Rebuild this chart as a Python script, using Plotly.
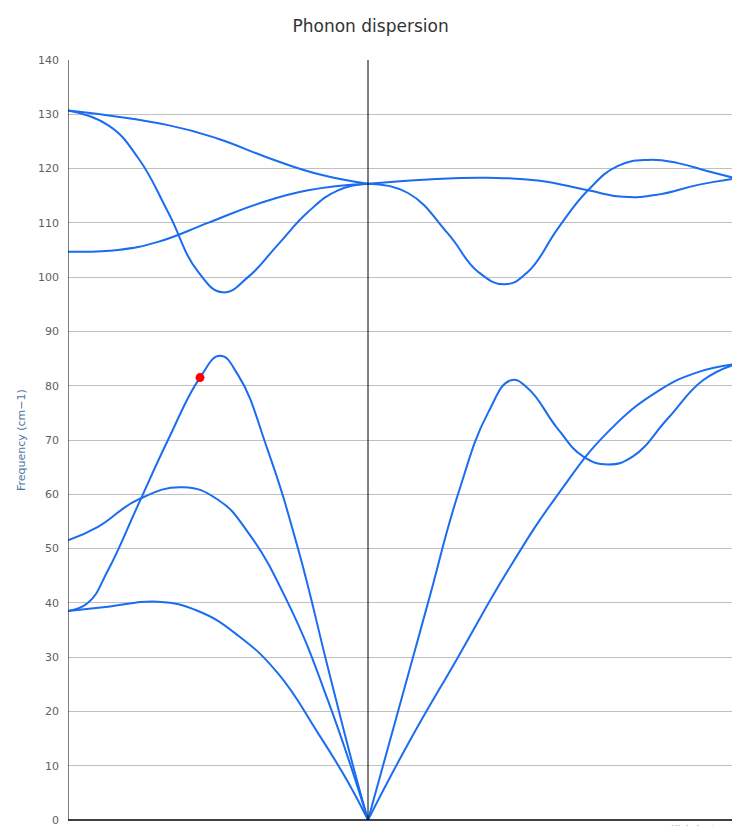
import plotly.graph_objects as go

# path coordinate (0 = Gamma, 300 = second point, 668 = end) and frequencies (cm-1)
seg1_x = {
 "A": [0, 100, 150, 200, 250, 300],
 "B": [0, 40, 70, 100, 130, 155, 180, 210, 240, 270, 300],
 "C": [0, 50, 90, 140, 190, 240, 300],
 "D": [0, 20, 40, 70, 100, 132, 152, 170, 200, 230, 260, 285, 300],
 "E": [0, 30, 70, 115, 150, 180, 220, 260, 300],
 "F": [0, 40, 90, 130, 170, 210, 250, 280, 300],
}
seg1_y = {
 "A": [130.7, 128, 125.5, 122, 119, 117.2],
 "B": [130.7, 128, 122, 112, 101, 97.2, 100, 106, 112, 116, 117.2],
 "C": [104.7, 105, 106.5, 110, 113.5, 116, 117.2],
 "D": [38.5, 40, 46, 58, 70, 81.5, 85.5, 82, 68, 50, 28, 10, 0],
 "E": [51.5, 54, 59, 61.3, 59, 53, 40, 22, 0],
 "F": [38.5, 39.3, 40.2, 38.5, 34, 27, 16, 7, 0],
}
seg2_x = {
 "G": [300, 360, 420, 470, 520, 555, 590, 630, 668],
 "H": [300, 340, 380, 410, 437, 460, 490, 520, 550, 580, 610, 640, 668],
 "I": [300, 330, 360, 390, 420, 443, 460, 490, 515, 540, 565, 600, 635, 668],
 "J": [300, 340, 390, 440, 490, 540, 590, 630, 668],
}
seg2_y = {
 "G": [117.2, 118, 118.3, 117.8, 116, 114.8, 115.2, 117, 118.2],
 "H": [117.2, 115.5, 108, 101, 98.7, 101, 109, 116, 120.5, 121.6, 121, 119.5, 118.2],
 "I": [0, 20, 40, 60, 75, 81, 79.5, 72, 67, 65.5, 67, 74, 81, 84],
 "J": [0, 14, 30, 46, 60, 71.5, 79, 82.5, 84],
}
marker_x = [132]
marker_y = [81.5]
kpoints = [0, 300, 668]
yticks = list(range(0, 141, 10))

fig = go.Figure()
for d_x, d_y in ((seg1_x, seg1_y), (seg2_x, seg2_y)):
    for k in d_x:
        fig.add_trace(go.Scatter(x=d_x[k], y=d_y[k], mode="lines",
                                 line=dict(color="#1a6cf0", width=2, shape="spline", smoothing=1.3),
                                 hoverinfo="skip", showlegend=False))
fig.add_trace(go.Scatter(x=marker_x, y=marker_y, mode="markers",
                         marker=dict(color="#ff0000", size=9), showlegend=False))
for k in kpoints:
    fig.add_shape(type="line", x0=k, x1=k, y0=0, y1=140, xref="x", yref="y",
                  line=dict(color="black", width=1))

fig.update_layout(
    width=740, height=826, plot_bgcolor="white", paper_bgcolor="white",
    margin=dict(l=60, r=12, t=52, b=14, autoexpand=False),
    title=dict(text="Phonon dispersion", x=0.49, xanchor="center", y=0.978, yanchor="middle",
               yref="container",
               font=dict(family="Lucida Grande, DejaVu Sans, sans-serif", size=17, color="#333333")),
    xaxis=dict(range=[0, 668], showticklabels=False, showgrid=False, zeroline=False,
               showline=False, ticks="", automargin=False),
    yaxis=dict(range=[0, 140], tickvals=yticks, gridcolor="#c0c0c0", zeroline=False,
               showline=False, tickfont=dict(family="DejaVu Sans", size=11, color="#606060"),
               ticklabelstandoff=8, automargin=False),
    annotations=[
        dict(text="Frequency (cm−1)", textangle=-90, xref="paper", yref="paper",
             x=-0.083, y=0.5, showarrow=False, font=dict(family="DejaVu Sans", size=11, color="#4d759e")),
        dict(text="Highcharts.com", xref="paper", yref="paper", x=1.012, y=-0.002,
             xanchor="right", yanchor="top", showarrow=False,
             font=dict(family="DejaVu Sans", size=9, color="#909090")),
    ],
)
fig.add_shape(type="line", x0=0, x1=1, y0=0, y1=0, xref="paper", yref="paper",
              line=dict(color="black", width=1.5))
fig.write_html("out.html")
